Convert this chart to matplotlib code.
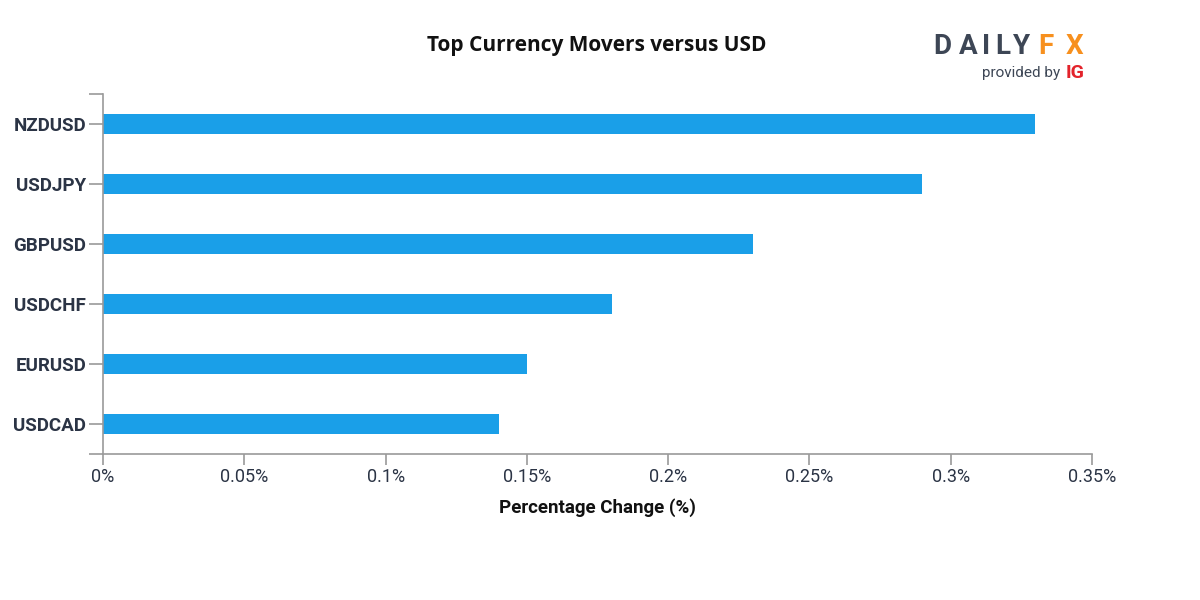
import matplotlib.pyplot as plt
from matplotlib.ticker import FuncFormatter, FixedLocator

pairs = ["NZDUSD", "USDJPY", "GBPUSD", "USDCHF", "EURUSD", "USDCAD"]
changes = [0.33, 0.29, 0.23, 0.18, 0.15, 0.14]
xticks = [0, 0.05, 0.1, 0.15, 0.2, 0.25, 0.3, 0.35]

plt.rcParams['font.family'] = ['Roboto', 'DejaVu Sans']

txt = "#2b3445"
axis_col = "#9a9a9a"
bar_col = "#1a9fe8"

fig = plt.figure(figsize=(12, 6), dpi=100)
ax = fig.add_axes([103/1200, 1 - 454/600, 989/1200, 360/600])

pos = list(range(len(pairs)))[::-1]
ax.barh(pos, changes, height=1/3, color=bar_col, zorder=2)

ax.set_xlim(0, 0.35)
ax.set_ylim(-0.5, len(pairs) - 0.5)
ax.set_xticks(xticks)
ax.xaxis.set_major_formatter(FuncFormatter(lambda v, p: f"{v:g}%"))
ax.set_yticks(pos)
ax.set_yticklabels(pairs)
ax.yaxis.set_minor_locator(FixedLocator([-0.5, len(pairs) - 0.5]))

for s in ["top", "right"]:
    ax.spines[s].set_visible(False)
for s in ["left", "bottom"]:
    ax.spines[s].set_color(axis_col)
    ax.spines[s].set_linewidth(1.2)

ax.tick_params(axis="x", length=8, width=1.2, color=axis_col, labelsize=13,
               labelcolor=txt, pad=2)
ax.tick_params(axis="y", which="both", length=10, width=1.2, color=axis_col,
               labelsize=13.5, labelcolor=txt, pad=2)
for lab in ax.get_yticklabels():
    lab.set_fontweight("bold")

ax.set_xlabel("Percentage Change (%)", fontsize=13.5, fontweight="bold",
              color="#111111", labelpad=9)

fig.text(0.4975, 1 - 46/600, "Top Currency Movers versus USD", ha="center",
         va="center", fontsize=15, fontweight="bold", color="#111111",
         family=["Open Sans", "DejaVu Sans"])

# logo
logo_letters = list("DAILYFX")
logo_colors = ["#3d4655"] * 5 + ["#f7901e"] * 2
logo_x = [942, 968, 986, 1003, 1022, 1046, 1074]
for ch, c, lx in zip(logo_letters, logo_colors, logo_x):
    fig.text(lx / 1200, 1 - 46/600, ch, ha="center", va="center",
             fontsize=20, fontweight="bold", color=c)
fig.text(1060/1200, 1 - 73/600, "provided by", ha="right", va="center",
         fontsize=11, color="#3d4655")
fig.text(1066/1200, 1 - 73/600, "IG", ha="left", va="center",
         fontsize=14, fontweight="bold", color="#e3232b")

fig.savefig("out.png", dpi=100, facecolor="white")
